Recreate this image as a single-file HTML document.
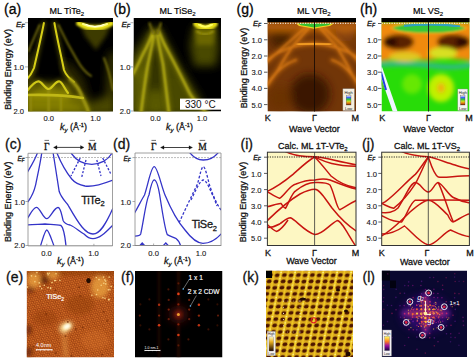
<!DOCTYPE html>
<html><head><meta charset="utf-8">
<style>
html,body{margin:0;padding:0;background:#fff;width:475px;height:361px;overflow:hidden}
svg{display:block}
text{font-family:"Liberation Sans",sans-serif}
.lab{font-size:14px;stroke:#111;stroke-width:0.3px}
.ttl{font-size:9px;stroke:#111;stroke-width:0.2px}
.tk{font-size:7.6px;stroke-width:0.1px}
.ax{font-size:9px}
</style></head><body>
<svg width="475" height="361" viewBox="0 0 475 361">
<defs>
 <filter id="b05" x="-20%" y="-20%" width="140%" height="140%"><feGaussianBlur stdDeviation="0.5"/></filter>
 <filter id="b07" x="-20%" y="-20%" width="140%" height="140%"><feGaussianBlur stdDeviation="0.7"/></filter>
 <filter id="b1" x="-20%" y="-20%" width="140%" height="140%"><feGaussianBlur stdDeviation="1"/></filter>
 <filter id="b2" x="-30%" y="-30%" width="160%" height="160%"><feGaussianBlur stdDeviation="2"/></filter>
 <filter id="b4" x="-50%" y="-50%" width="200%" height="200%"><feGaussianBlur stdDeviation="4"/></filter>
<linearGradient id="lg" x1="0" y1="0" x2="0" y2="1">
 <stop offset="0" stop-color="#fff"/><stop offset="0.2" stop-color="#4060ff"/><stop offset="0.4" stop-color="#20c040"/><stop offset="0.6" stop-color="#c0e020"/><stop offset="0.8" stop-color="#f08010"/><stop offset="1" stop-color="#602000"/></linearGradient>
<linearGradient id="lgk" x1="0" y1="0" x2="0" y2="1"><stop offset="0" stop-color="#fff8c0"/><stop offset="0.35" stop-color="#e8b020"/><stop offset="1" stop-color="#200800"/></linearGradient>
<linearGradient id="lgl" x1="0" y1="0" x2="0" y2="1"><stop offset="0" stop-color="#ffff60"/><stop offset="0.35" stop-color="#ff8020"/><stop offset="0.65" stop-color="#a010a0"/><stop offset="1" stop-color="#100040"/></linearGradient>
</defs>

<!-- ===== Row 1 ===== -->
<text class="lab" x="4" y="14">(a)</text>
<text class="ttl" x="49.5" y="14">ML TiTe<tspan font-size="6" dy="2">2</tspan></text>

<clipPath id="ca"><rect x="28" y="18" width="85" height="93.5"/></clipPath>
<g clip-path="url(#ca)">
<rect x="28" y="18" width="85" height="93.5" fill="#000"/>
<g filter="url(#b4)">
 <path d="M24,86 C40,82 60,82 80,90 L92,116 L24,116 Z" fill="#7a7600"/>
 <path d="M28,90 L75,90 L75,108 L28,108 Z" fill="#8a8400" opacity="0.6"/>
 <path d="M85,104 C95,100 105,98 116,90 L116,116 L85,116 Z" fill="#4a4600"/>
 <path d="M108,55 L116,50 L116,100 L106,95 Z" fill="#3a3800"/>
 <path d="M62,60 C70,62 78,70 84,80 L90,100 L70,100 Z" fill="#2a2800"/>
 <path d="M24,55 L34,50 L34,90 L24,95 Z" fill="#2a2800"/>
</g>
<g fill="none" stroke-linecap="round">
 <g stroke="#a8a010" stroke-width="4" opacity="0.45" filter="url(#b2)">
  <path d="M43.9,23 C41,38 37,55 34,68 C32,73 30,76 27,79"/>
  <path d="M54.4,23 C57,38 61,55 64,70 C67,78 76,86 82.8,98.4 C85,103 87,107 88.5,112"/>
  <path d="M27,91 C31,86 35,81.4 38.3,81.4 C42,81.4 45,89 48.7,89 C52,89 55,81.4 59.1,81.4 C62,81.4 64,88 68,93"/>
  <path d="M27,96.5 C45,95.5 65,96 82.8,99"/>
 </g>
 <g stroke="#9a9210" stroke-width="1.8" opacity="0.8" filter="url(#b1)">
  <path d="M39.5,25 L28.5,51"/>
  <path d="M58.5,25 C64,37 71,50 77,60 C81,67 86,73 91,76"/>
  <path d="M104,58 C108,68 111,80 113,90"/>
  <path d="M30.7,96 L30.7,112 M48.7,89 L48.7,112 M61,96 L61,112" stroke-width="2.6"/>
 </g>
 <g stroke="#d8d018" stroke-width="2" filter="url(#b07)">
  <path d="M43.9,23 C41,38 37,55 34,68 C32,73 30,76 27,79"/>
  <path d="M54.4,23 C57,38 61,55 64,70 C66,75 70,79 74,82"/>
 </g>
 <path d="M70,79 C76,84 80,90 82.8,98.4 C85,103 87,107 88.5,112" stroke="#a09810" stroke-width="3" filter="url(#b1)"/>
 <g stroke="#d0c818" stroke-width="2.2" filter="url(#b07)">
  <path d="M27,91 C31,86 35,81.4 38.3,81.4 C42,81.4 45,89 48.7,89 C52,89 55,81.4 59.1,81.4 C62,81.4 64,88 68,93"/>
  <path d="M27,95 C45,94.5 65,95 82.8,98" stroke="#c0b814" stroke-width="2.6"/>
 </g>
 <path d="M58,23 L65,23" stroke="#5a5600" stroke-width="2" filter="url(#b1)"/>
 <!-- M pocket -->
 <path d="M80,24 L111,24 L106,36 L96,50 L85,36 Z" fill="#3e3a00" filter="url(#b2)"/>
 <path d="M79,23.5 Q95,33 111,23.5" stroke="#e8e018" stroke-width="5.5" filter="url(#b1)"/>
 <path d="M83,24 Q95,30 107,24" stroke="#ffff80" stroke-width="2.2" filter="url(#b05)"/>
 <path d="M86,24.5 Q95,28.5 104,24.5" stroke="#fffff0" stroke-width="1" filter="url(#b05)"/>
</g>
</g>
<clipPath id="cb"><rect x="133.5" y="18" width="87.5" height="93.5"/></clipPath>
<g clip-path="url(#cb)">
<rect x="133.5" y="18" width="87.5" height="93.5" fill="#000"/>
<g filter="url(#b4)">
 <path d="M130,58 L150,28 L160,28 L180,66 L200,98 L205,116 L130,116 Z" fill="#464600"/>
 <path d="M130,75 L146,65 L150,116 L130,116 Z" fill="#606000"/>
 <path d="M140,80 L175,80 L195,116 L138,116 Z" fill="#4a4a00"/>
 <path d="M149,92 L163,92 L165,116 L147,116 Z" fill="#5a5a00"/>
 <path d="M163,75 L180,80 L190,112 L168,112 Z" fill="#484800"/>
 <path d="M150,45 L160,45 L160,90 L150,90 Z" fill="#000" opacity="0.4"/>
</g>
<g fill="none" stroke-linecap="round">
 <g stroke="#9a9210" stroke-width="6" opacity="0.45" filter="url(#b2)">
  <path d="M153,32 C150,40 147,47 144,52 C140,60 137,67 133,74"/>
  <path d="M153.8,36 C152,45 150,55 148,64 C145,80 143,97 141,113"/>
  <path d="M157.2,35 C159,45 161,55 163,64 C165,80 167,97 169,113"/>
  <path d="M158.6,31 C162,40 166,48 170,55 C176,66 183,80 190,94 C196,103 202,109 208,114"/>
 </g>
 <g stroke="#bab214" stroke-width="2.2" filter="url(#b1)">
  <path d="M153,32 C150,40 147,47 144,52 C140,60 137,67 133,74"/>
  <path d="M153.8,36 C152,45 150,55 148,64 C145,80 143,97 141,113"/>
  <path d="M157.2,35 C159,45 161,55 163,64 C165,80 167,97 169,113"/>
  <path d="M158.6,31 C162,40 166,48 170,55 C176,66 183,80 190,94 C196,103 202,109 208,114"/>
 </g>
 <path d="M150,24 L161,24" stroke="#4a4800" stroke-width="5" filter="url(#b2)"/>
 <path d="M153,33 L149.6,23.5 M158,33 L160.7,23.5" stroke="#6a6408" stroke-width="2.5" filter="url(#b1)"/>
 <!-- M pocket -->
 <path d="M194,26 L216,26 L219,45 L216,66 L194,66 L190,45 Z" fill="#4a4800" filter="url(#b4)"/>
 <path d="M194,27 L216,27 L213,45 L197,45 Z" fill="#6a6600" filter="url(#b2)"/>
 <path d="M197,31.5 Q205,37 213,31.5" stroke="#a09810" stroke-width="2" filter="url(#b1)"/>
 <path d="M196,24 Q205,32 215,24" stroke="#e8e018" stroke-width="5.5" filter="url(#b1)"/>
 <path d="M199,24.5 Q205,29 212,24.5" stroke="#ffff60" stroke-width="2.2" filter="url(#b05)"/>
</g>
<rect x="180" y="98.6" width="41" height="11.1" fill="#fff"/>
<text x="185" y="108.3" font-size="10" fill="#111">330 °C</text>
</g>

<text class="lab" x="113.5" y="14">(b)</text>
<text class="ttl" x="159.5" y="14">ML TiSe<tspan font-size="6" dy="2">2</tspan></text>

<text class="lab" x="236.5" y="14">(g)</text>
<text class="ttl" x="297" y="14">ML VTe<tspan font-size="6" dy="2">2</tspan></text>
<clipPath id="cg"><rect x="267.5" y="18" width="88.5" height="93.5"/></clipPath>
<g clip-path="url(#cg)">
<rect x="267.5" y="18" width="88.5" height="93.5" fill="#723608"/>
<g filter="url(#b4)">
 <ellipse cx="310" cy="94" rx="20" ry="20" fill="#3a1803"/>
 <ellipse cx="281" cy="38" rx="11" ry="11" fill="#4a2204"/>
 <ellipse cx="345" cy="36" rx="10" ry="6" fill="#8a4408"/>
 <ellipse cx="280" cy="98" rx="12" ry="12" fill="#6a3206"/>
 <rect x="262" y="23" width="100" height="7" fill="#d07010"/>
</g>
<g fill="none" stroke-linecap="round" stroke="#e88418">
 <g stroke-width="5" opacity="0.45" filter="url(#b2)">
  <path d="M310,26.4 C303,35 296,42 291.5,48 C286,56 282,62 278.8,68.5 C275,75 271,80 267,86"/>
  <path d="M305,27.7 C295,37 283,47 273.7,55.7 L267,62"/>
  <path d="M319,26.4 C326,35 333,42 337.5,48 C342,56 346,62 349.2,68.5 C352,75 355,80 359,86"/>
  <path d="M324,27.7 C334,37 345,47 353,55.7 L359,62"/>
  <path d="M267,60 C280,50 297,44 314,43.5 C331,44 346,50 359,58"/>
  <path d="M267,84 C276,72 284,64 296,60 M359,84 C350,72 344,64 332,60"/>
 </g>
 <g stroke-width="1.8" opacity="0.7" filter="url(#b1)">
  <path d="M310,26.4 C303,35 296,42 291.5,48 C286,56 282,62 278.8,68.5 C275,75 271,80 267,86"/>
  <path d="M305,27.7 C295,37 283,47 273.7,55.7 L267,62"/>
  <path d="M319,26.4 C326,35 333,42 337.5,48 C342,56 346,62 349.2,68.5 C352,75 355,80 359,86"/>
  <path d="M324,27.7 C334,37 345,47 353,55.7 L359,62"/>
  <path d="M267,60 C280,50 297,44 314,43.5 C331,44 346,50 359,58"/>
  <path d="M267,84 C276,72 284,64 296,60 M359,84 C350,72 344,64 332,60"/>
 </g>
 <path d="M298,44.5 C305,43.8 322,43.8 330,44.5" stroke="#ffa828" stroke-width="3" filter="url(#b1)"/>
</g>
<path d="M262,26 H362" stroke="#f08c18" stroke-width="5" filter="url(#b1)"/>
<path d="M296,23.5 L334,23.5 L330,26 Q322,27 314,28.8 Q306,27 299,26 Z" fill="#f0d020" filter="url(#b05)"/>
<path d="M298,23.5 L332,23.5 L328,25.3 Q321,26 314,27.5 Q307,26 301,25.3 Z" fill="#30c030" filter="url(#b05)"/>
<path d="M306,24.3 L323,24.3" stroke="#a0d8e0" stroke-width="1" fill="none" filter="url(#b05)"/>
<rect x="262" y="17" width="100" height="5.2" fill="#000"/>
<line x1="267.5" y1="23.3" x2="356" y2="23.3" stroke="#fff" stroke-width="1" stroke-dasharray="1.2,1.3"/>
<line x1="314.5" y1="22" x2="314.5" y2="112" stroke="#1a0c04" stroke-width="0.9"/>
<rect x="342.9" y="88.8" width="11.5" height="21.8" fill="#f4eee0" stroke="#888" stroke-width="0.4"/>
<text x="348.6" y="93.5" font-size="4" text-anchor="middle" fill="#222">High</text>
<text x="348.6" y="109.5" font-size="4" text-anchor="middle" fill="#222">Low</text>
<rect x="346.2" y="95.5" width="4.8" height="9.5" fill="url(#lg)" stroke="#444" stroke-width="0.3"/>
</g>

<text class="lab" x="360" y="14">(h)</text>
<text class="ttl" x="413" y="14">ML VS<tspan font-size="6" dy="2">2</tspan></text>
<clipPath id="ch"><rect x="381.5" y="18" width="88" height="93.5"/></clipPath>
<g clip-path="url(#ch)">
<rect x="381.5" y="18" width="88" height="93.5" fill="#28dc08"/>
<g filter="url(#b2)">
 <path d="M376,22 H476 V62 C460,58 445,58 428,60 C410,60 395,58 376,62 Z" fill="#f08a10"/>
 <ellipse cx="399" cy="42" rx="15" ry="8" fill="#5a2200"/>
 <ellipse cx="453" cy="42" rx="16" ry="8" fill="#5a2200"/>
 <ellipse cx="390" cy="42" rx="7" ry="6" fill="#301000"/>
 <ellipse cx="463" cy="42" rx="7" ry="6" fill="#301000"/>
 <ellipse cx="443" cy="53" rx="14" ry="6" fill="#d8e020"/>
 <ellipse cx="405" cy="57" rx="16" ry="5" fill="#e0c820"/>
 <path d="M376,65 C400,63 420,64 435,66 C450,68 460,67 476,64" stroke="#30b0a0" stroke-width="4" fill="none"/>
 <ellipse cx="441" cy="88" rx="13" ry="14" fill="#c0f000"/>
 <ellipse cx="441" cy="88" rx="4" ry="5" fill="#f0b010"/>
 <ellipse cx="412" cy="84" rx="10" ry="10" fill="#90f000" opacity="0.6"/>
</g>
<path d="M391,28 C400,20.5 455,20.5 467,28 C458,35 400,35.5 391,28 Z" fill="#38c838" stroke="#f8a818" stroke-width="1.5" filter="url(#b1)"/>
<path d="M404,25.8 C420,24 445,24 460,26.5" stroke="#30a0c0" stroke-width="2.2" fill="none" filter="url(#b05)"/>
<path d="M419,25 L429,25" stroke="#f0f8ff" stroke-width="2" filter="url(#b05)"/>
<path d="M380,68 L396,114" stroke="#f0f4ff" stroke-width="4.5" filter="url(#b05)"/>
<path d="M381,72 L386,90" stroke="#2040e0" stroke-width="2" filter="url(#b05)"/>
<path d="M378,70 L383,88" stroke="#60c030" stroke-width="2" filter="url(#b05)"/>
<rect x="376" y="17" width="100" height="5.2" fill="#000"/>
<line x1="381.5" y1="23.3" x2="469.5" y2="23.3" stroke="#fff" stroke-width="1" stroke-dasharray="1.2,1.3"/>
<line x1="428.5" y1="22" x2="428.5" y2="112" stroke="#1a1a1a" stroke-width="0.9"/>
<rect x="457.8" y="89" width="9.9" height="21.5" fill="#f4f4f0" stroke="#888" stroke-width="0.4"/>
<text x="462.75" y="93.5" font-size="4" text-anchor="middle" fill="#222">High</text>
<text x="462.75" y="109.5" font-size="4" text-anchor="middle" fill="#222">Low</text>
<rect x="460.5" y="95.5" width="4.5" height="9.5" fill="url(#lg)" stroke="#444" stroke-width="0.3"/>
</g>

<!-- row1 axes text -->
<g fill="#111" stroke="#111" stroke-width="0.28">
<text transform="translate(10.8,69.4) rotate(-90)" class="ax" text-anchor="middle">Binding Energy (eV)</text>
<text x="16" y="26.7" font-size="8" font-style="italic">E<tspan font-size="5.5" dy="1.5">F</tspan></text>
<text class="tk" x="24" y="69.8" text-anchor="end">1.0</text>
<text class="tk" x="24" y="114" text-anchor="end">2.0</text>
<text class="tk" x="48.7" y="120.6" text-anchor="middle">0.0</text>
<text class="tk" x="95.5" y="120.6" text-anchor="middle">1.0</text>
<text class="ax" x="60" y="130"><tspan font-style="italic">k</tspan><tspan font-size="6" dy="1.5" font-style="italic">y</tspan><tspan dy="-1.5"> (Å</tspan><tspan font-size="5.5" dy="-3">-1</tspan><tspan dy="3">)</tspan></text>

<text x="121.4" y="26.7" font-size="8" font-style="italic">E<tspan font-size="5.5" dy="1.5">F</tspan></text>
<text class="tk" x="130.4" y="69.8" text-anchor="end">1.0</text>
<text class="tk" x="130.4" y="114" text-anchor="end">2.0</text>
<text class="tk" x="155.5" y="120.6" text-anchor="middle">0.0</text>
<text class="tk" x="202" y="120.6" text-anchor="middle">1.0</text>
<text class="ax" x="166" y="130"><tspan font-style="italic">k</tspan><tspan font-size="6" dy="1.5" font-style="italic">y</tspan><tspan dy="-1.5"> (Å</tspan><tspan font-size="5.5" dy="-3">-1</tspan><tspan dy="3">)</tspan></text>
</g>
<g stroke="#888" stroke-width="0.7">
<path d="M25,22.7 H28 M25,66.9 H28 M130.5,22.7 H133.5 M130.5,66.9 H133.5 M131,111 H133.5"/>
</g>


<g fill="#111" stroke="#111" stroke-width="0.28">
<text transform="translate(246.6,68) rotate(-90)" class="ax" text-anchor="middle">Binding Energy (eV)</text>
<text x="253" y="25.8" font-size="7.5" font-style="italic">E<tspan font-size="5" dy="1.3">F</tspan></text>
<text class="tk" x="262" y="42.8" text-anchor="end">1.0</text>
<text class="tk" x="262" y="59" text-anchor="end">2.0</text>
<text class="tk" x="262" y="75.2" text-anchor="end">3.0</text>
<text class="tk" x="262" y="91.4" text-anchor="end">4.0</text>
<text class="tk" x="262" y="107.6" text-anchor="end">5.0</text>
<text class="ax" x="267.8" y="121.4" text-anchor="middle">K</text>
<text class="ax" x="314.5" y="121.4" text-anchor="middle">Γ</text>
<text class="ax" x="355.3" y="121.4" text-anchor="middle">M</text>
<text class="ax" x="314.4" y="131.5" text-anchor="middle">Wave Vector</text>

<text x="367" y="25.8" font-size="7.5" font-style="italic">E<tspan font-size="5" dy="1.3">F</tspan></text>
<text class="tk" x="377.5" y="42.8" text-anchor="end">1.0</text>
<text class="tk" x="377.5" y="59" text-anchor="end">2.0</text>
<text class="tk" x="377.5" y="75.2" text-anchor="end">3.0</text>
<text class="tk" x="377.5" y="91.4" text-anchor="end">4.0</text>
<text class="tk" x="377.5" y="107.6" text-anchor="end">5.0</text>
<text class="ax" x="382.3" y="121.4" text-anchor="middle">K</text>
<text class="ax" x="428.5" y="121.4" text-anchor="middle">Γ</text>
<text class="ax" x="469" y="121.4" text-anchor="middle">M</text>
<text class="ax" x="428.5" y="131.5" text-anchor="middle">Wave Vector</text>
</g>
<g stroke="#333" stroke-width="0.8">
<path d="M264,23.5 H267.5 M264,39.8 H267.5 M264,56 H267.5 M264,72.2 H267.5 M264,88.4 H267.5 M264,104.6 H267.5"/>
<path d="M378,23.5 H381.5 M378,39.8 H381.5 M378,56 H381.5 M378,72.2 H381.5 M378,88.4 H381.5 M378,104.6 H381.5"/>
</g>

<!-- ===== Row 2 ===== -->

<clipPath id="cc"><rect x="28" y="153.3" width="84.5" height="92.5"/></clipPath>
<rect x="28" y="153.3" width="84.5" height="92.5" fill="#fff"/>
<line x1="28" y1="157.5" x2="112.5" y2="157.5" stroke="#aaa" stroke-width="0.8" stroke-dasharray="2,1"/>
<g clip-path="url(#cc)" fill="none" stroke="#3434c8" stroke-width="1.3">
 <path d="M37.8,152 C35,160 31,166 27,173"/>
 <path d="M41.9,152 C40,165 37,178 35.7,184.6 C34,192 31,198 27,203"/>
 <path d="M53,152 C55,165 57.5,180 59.2,191.5 C61,197 64,200 68,205 C72,212 77,221 82,227 C87,233 90,234 93,234 C100,234 106,224 113,208"/>
 <path d="M56.5,152 C61,163 66,172 71.7,179 C75,183 80,185 85,186 C91,187 100,185 113,180"/>
 <path d="M71,153 C76,160 84,164.3 91.8,164.3 C100,164.3 108,160 111.8,153.5"/>
 <path d="M27,219 C30,215 33,207.3 36.4,207.3 C40,207.3 43,218.7 46.8,218.7 C50,218.7 54,207.5 58,207.5 C61,207.5 62,217 63.2,220.7 C65,224 67,224.5 70,225 C75,227 80,232 84,234 C88,238 91,238.7 93,238.7 C100,238.7 106,232 113,225"/>
 <path d="M27,225 C32,224 40,224.5 45,224 C50,224.5 56,224.5 61,225.5 C64,228 65,236 66.1,247"/>
 <path d="M40.2,247 C43,238 45,230 46.8,230 C48.6,230 51,238 54.4,247"/>
 <g stroke-dasharray="2.2,1.6">
  <path d="M80.2,158 L71,176"/><path d="M86,160 L81.8,176.8"/><path d="M96.8,160 L101,176"/><path d="M102.7,158 L111,174.3"/>
 </g>
</g>
<path d="M28,246 V153.3 H112.5 V246" fill="none" stroke="#888" stroke-width="0.8"/>
<line x1="28" y1="245.8" x2="112.5" y2="245.8" stroke="#888" stroke-width="1"/>
<g fill="#111" stroke="#111" stroke-width="0.28">
 <text x="46.8" y="149.9" font-family="Liberation Serif" font-size="9.5" text-anchor="middle" style="font-family:'Liberation Serif',serif">Γ</text>
 <text x="92.3" y="149.9" font-size="9.5" text-anchor="middle" style="font-family:'Liberation Serif',serif">M</text>
 <path d="M44.5,140.4 H49 M89.5,140.4 H95" stroke="#111" stroke-width="0.6"/>
 <path d="M55,147.4 H82.5" stroke="#111" stroke-width="0.8"/>
 <path d="M53.5,147.4 L57,145.6 L57,149.2 Z M84,147.4 L80.5,145.6 L80.5,149.2 Z"/>
 <text x="81.2" y="203.6" font-size="11" fill="#222" letter-spacing="-0.3">TiTe<tspan font-size="7.5" dy="2.5">2</tspan></text>
</g>


<clipPath id="cd"><rect x="135" y="153" width="86" height="92.5"/></clipPath>
<rect x="135" y="153" width="86" height="92.5" fill="#fff"/>
<line x1="135" y1="157.6" x2="221" y2="157.6" stroke="#aaa" stroke-width="0.8" stroke-dasharray="2,1"/>
<g clip-path="url(#cd)" fill="none" stroke="#3434c8" stroke-width="1.3">
 <path d="M134,214 C138,207 142,199 144.5,195 C148,185 151,166.7 154.2,166.7 C157.4,166.7 161,185 165,195 C170,207 178,222 185,230 C191,238 197,243.3 203,243.3 C210,243.3 216,240 222,233"/>
 <path d="M134,236.2 C137,236 140,235.5 140.7,233.9 C143,225 146,200 149,195 C151,185 152.5,179.9 154.2,179.9 C156,179.9 158,185 159.7,195 C162,210 165,230 167.3,234.6 C170,236.5 174,237 176,238.5 C178,240 180,243 181,247"/>
 <path d="M189.2,152 C193,157 198,160 203.3,160 C209,160 215,157 218.7,152"/>
 <path d="M139.5,246 L142.2,243 L145,246 M163,246 L165.8,243 L168.6,246"/>
 <g stroke-dasharray="2.6,1.8">
  <path d="M179.2,222.5 C185,210 192,195 197.5,184 C200,175 201.5,166.7 203.3,166.7 C205,166.7 207,175 209.2,184 C212,193 216,203 221,210"/>
  <path d="M191,200 C195,192 200,180 203.3,180 C206.6,180 210,190 214,198 L217,206"/>
 </g>
</g>
<path d="M135,246 V153 H221 V246" fill="none" stroke="#888" stroke-width="0.8"/>
<line x1="135" y1="245.5" x2="221" y2="245.5" stroke="#888" stroke-width="1"/>
<g fill="#111" stroke="#111" stroke-width="0.28">
 <text x="153.8" y="149.9" font-size="9.5" text-anchor="middle" style="font-family:'Liberation Serif',serif">Γ</text>
 <text x="202.5" y="149.9" font-size="9.5" text-anchor="middle" style="font-family:'Liberation Serif',serif">M</text>
 <path d="M151.5,140.4 H156 M199.7,140.4 H205.2" stroke="#111" stroke-width="0.6"/>
 <path d="M162,147.5 H191" stroke="#111" stroke-width="0.8"/>
 <path d="M160.5,147.5 L164,145.7 L164,149.3 Z M192.5,147.5 L189,145.7 L189,149.3 Z"/>
 <text x="191.7" y="228.3" font-size="11" fill="#222" letter-spacing="-0.3">TiSe<tspan font-size="7.5" dy="2.5">2</tspan></text>
 <text class="lab" x="113" y="149">(d)</text>
 <text x="123.5" y="160.5" font-size="6.5" font-style="italic">E<tspan font-size="4.5" dy="1.2">F</tspan></text>
 <text class="tk" x="131" y="204.5" text-anchor="end">1.0</text>
 <text class="tk" x="131" y="248" text-anchor="end">2.0</text>
 <text class="tk" x="153.6" y="255.7" text-anchor="middle">0.0</text>
 <text class="tk" x="201" y="255.7" text-anchor="middle">1.0</text>
 <text class="ax" x="164" y="264.3"><tspan font-style="italic">k</tspan><tspan font-size="6" dy="1.5" font-style="italic">y</tspan><tspan dy="-1.5"> (Å</tspan><tspan font-size="5.5" dy="-3">-1</tspan><tspan dy="3">)</tspan></text>
</g>
<path d="M153.6,245.5 V243.5 M201,245.5 V243.5 M132.5,157.6 H135 M132.5,201.5 H135 M132.5,245.5 H135" stroke="#888" stroke-width="0.7"/>


<clipPath id="ci"><rect x="267.4" y="152.2" width="88.6" height="93.3"/></clipPath>
<rect x="267.4" y="152.2" width="88.6" height="93.3" fill="#fdf7c3"/>
<g clip-path="url(#ci)" fill="none" stroke="#c81410" stroke-width="1.5">
 <path d="M283,150 C290,155 300,156.8 314.5,156.8 C325,157 335,161 357,164.9"/>
 <path d="M314.5,157 C322,160 330,166 357,166.3"/>
 <path d="M314.5,157 C320,162 326,170 331,176 C337,181 345,186 357,188"/>
 <path d="M314.5,157 C306,162 298,170 293,174.4 C285,181 275,188 266,192"/>
 <path d="M266,191 C270,193 275,197 279.6,198.3 C284,196 290,185 296,184 C303,181 309,180 314.8,179.9 C320,179 324,178 330,180 C340,184 350,188 357,189.3"/>
 <path d="M266,207 C272,206 278,203 281,203.5 C283,206 284,208 285.5,208.3 C288,205 292,192 296,190.7 C302,186 309,182.6 314.8,182.6 C320,182.6 326,182 330,185 C334,192 337,209.7 339.9,209.7 C344,208 350,203 357,200.2"/>
 <path d="M266,221.9 C275,213 290,200 300,194 C306,191 310,189.3 314.8,189.3 C320,189.3 326,200 332,208 C340,218 348,226 357,231.4"/>
 <path d="M266,227.3 C272,228 276,226 279.6,224 C284,221 287,217.8 290.4,217.8 C295,219 305,232 314.8,234.5 C322,235 330,224 337.1,220.6 C342,221 348,235 357,248"/>
 <path d="M266,223.3 C270,227 274,231 276.9,231.4 C280,230 284,226 288,220"/>
</g>
<line x1="267.4" y1="157" x2="356" y2="157" stroke="#111" stroke-width="0.9" stroke-dasharray="1.2,1.2"/>
<line x1="314.6" y1="152.2" x2="314.6" y2="245.5" stroke="#333" stroke-width="0.8"/>
<rect x="267.4" y="152.2" width="88.6" height="93.3" fill="none" stroke="#333" stroke-width="1"/>

<clipPath id="cj"><rect x="381.7" y="152.2" width="87.7" height="93.3"/></clipPath>
<rect x="381.7" y="152.2" width="87.7" height="93.3" fill="#fdf7c3"/>
<g clip-path="url(#cj)" fill="none" stroke="#c81410" stroke-width="1.5">
 <path d="M399,150 C405,154 415,156 428.3,156.8 C435,158 445,162 455,165 C460,167 465,168 470,169"/>
 <path d="M428.3,157 C422,165 418,172 415.3,174.4 C405,183 395,195 385.4,201.6 C383,203 381,204 380,204"/>
 <path d="M428.3,157 C424,165 420,175 415.3,183.9 C410,192 402,202 393.6,208.3 C388,207 384,204 380,203"/>
 <path d="M380,212.4 C388,213 393,213 398,208 C405,198 410,183 415.3,182.6 C420,182.6 424,192 428.3,192 C432,192 435,182.6 438.3,182.6 C443,184 448,195 453.3,197.5 C458,200 464,202 470,203"/>
 <path d="M428.3,157 C431,165 434,175 438.3,177.1 C445,178 455,176 470,175.8"/>
 <path d="M380,215 C386,217 390,222 401.7,221.9 C407,215 410,203 415.3,200.2 C420,200.2 440,200 470,200.2"/>
 <path d="M380,236.8 C390,232 400,222 410,212 C418,205 424,200.2 428.3,200.2 C435,200.2 442,210 447.8,215 C450,220 452,221.9 453.3,221.9 C458,220 464,215 470,213.8"/>
 <path d="M380,234 C388,234.5 396,232 404.4,226 C410,230 420,243 428.3,245 C436,245 444,232 450.6,230 C455,232 462,236 470,236.8"/>
 <path d="M438.3,182.6 C443,192 448,210 453.3,221.9"/>
</g>
<line x1="381.7" y1="157" x2="469.4" y2="157" stroke="#111" stroke-width="0.9" stroke-dasharray="1.2,1.2"/>
<line x1="428.3" y1="152.2" x2="428.3" y2="245.5" stroke="#333" stroke-width="0.8"/>
<rect x="381.7" y="152.2" width="87.7" height="93.3" fill="none" stroke="#333" stroke-width="1"/>



<g fill="#111" stroke="#111" stroke-width="0.28">
<text class="lab" x="5" y="149">(c)</text>
<text transform="translate(10.5,201.7) rotate(-90)" class="ax" text-anchor="middle">Binding Energy (eV)</text>
<text x="17.5" y="160.5" font-size="6.5" font-style="italic">E<tspan font-size="4.5" dy="1.2">F</tspan></text>
<text class="tk" x="24.9" y="204.5" text-anchor="end">1.0</text>
<text class="tk" x="24.9" y="248" text-anchor="end">2.0</text>
<text class="tk" x="46.5" y="255.7" text-anchor="middle">0.0</text>
<text class="tk" x="93.5" y="255.7" text-anchor="middle">1.0</text>
<text class="ax" x="57" y="264.3"><tspan font-style="italic">k</tspan><tspan font-size="6" dy="1.5" font-style="italic">y</tspan><tspan dy="-1.5"> (Å</tspan><tspan font-size="5.5" dy="-3">-1</tspan><tspan dy="3">)</tspan></text>
</g>
<path d="M46.8,245.8 V243.8 M93.9,245.8 V243.8 M25.5,157.5 H28 M25.5,201.5 H28 M25.5,245.5 H28" stroke="#888" stroke-width="0.7"/>


<g fill="#111" stroke="#111" stroke-width="0.28">
<text class="lab" x="240.5" y="149">(i)</text>
<text class="ax" x="278" y="149.2">Calc. ML 1T-VTe<tspan font-size="6" dy="2">2</tspan></text>
<text transform="translate(246,202) rotate(-90)" class="ax" text-anchor="middle">Binding Energy (eV)</text>
<text x="253.2" y="159.5" font-size="7" font-style="italic">E<tspan font-size="4.8" dy="1.2">F</tspan></text>
<text class="tk" x="261.5" y="176.5" text-anchor="end">1.0</text>
<text class="tk" x="261.5" y="192.7" text-anchor="end">2.0</text>
<text class="tk" x="261.5" y="208.9" text-anchor="end">3.0</text>
<text class="tk" x="261.5" y="225.1" text-anchor="end">4.0</text>
<text class="tk" x="261.5" y="241.3" text-anchor="end">5.0</text>
<text class="ax" x="268" y="255.8" text-anchor="middle">K</text>
<text class="ax" x="314.6" y="255.8" text-anchor="middle">Γ</text>
<text class="ax" x="355.5" y="255.8" text-anchor="middle">M</text>
<text class="ax" x="311.5" y="264.2" text-anchor="middle">Wave Vector</text>

<text class="lab" x="362" y="149">(j)</text>
<text class="ax" x="394.1" y="149.2">Calc. ML 1T-VS<tspan font-size="6" dy="2">2</tspan></text>
<text x="367.6" y="159.5" font-size="7" font-style="italic">E<tspan font-size="4.8" dy="1.2">F</tspan></text>
<text class="tk" x="377" y="176.5" text-anchor="end">1.0</text>
<text class="tk" x="377" y="192.7" text-anchor="end">2.0</text>
<text class="tk" x="377" y="208.9" text-anchor="end">3.0</text>
<text class="tk" x="377" y="225.1" text-anchor="end">4.0</text>
<text class="tk" x="377" y="241.3" text-anchor="end">5.0</text>
<text class="ax" x="381.8" y="255.8" text-anchor="middle">K</text>
<text class="ax" x="427" y="255.8" text-anchor="middle">Γ</text>
<text class="ax" x="470" y="255.8" text-anchor="middle">M</text>
<text class="ax" x="424.8" y="264.5" text-anchor="middle">Wave vector</text>
</g>
<g stroke="#333" stroke-width="0.8">
<path d="M264,157.2 H267.4 M264,173.4 H267.4 M264,189.6 H267.4 M264,205.8 H267.4 M264,222 H267.4 M264,238.2 H267.4"/>
<path d="M378.3,157.2 H381.7 M378.3,173.4 H381.7 M378.3,189.6 H381.7 M378.3,205.8 H381.7 M378.3,222 H381.7 M378.3,238.2 H381.7"/>
</g>

<!-- ===== Row 3 ===== -->

<pattern id="pe" x="0" y="0" width="2.4" height="4.16" patternUnits="userSpaceOnUse" patternTransform="rotate(-12)">
 <rect width="2.4" height="4.16" fill="#9a4010"/>
 <circle cx="1.2" cy="1.04" r="0.85" fill="#d87028"/>
 <circle cx="0" cy="3.12" r="0.85" fill="#d87028"/>
 <circle cx="2.4" cy="3.12" r="0.85" fill="#d87028"/>
</pattern>
<clipPath id="ce"><rect x="26.6" y="271" width="87.4" height="86.5"/></clipPath>
<g clip-path="url(#ce)">
<rect x="26.6" y="271" width="87.4" height="86.5" fill="url(#pe)"/>
<g filter="url(#b2)">
 <rect x="26" y="270" width="90" height="5" fill="#803808" opacity="0.6"/>
 <ellipse cx="80" cy="305" rx="14" ry="10" fill="#803008" opacity="0.35"/>
 <ellipse cx="45" cy="318" rx="12" ry="8" fill="#803008" opacity="0.3"/>
 <ellipse cx="95" cy="340" rx="14" ry="10" fill="#e88030" opacity="0.25"/>
 <ellipse cx="34" cy="280" rx="7" ry="8" fill="#e8a040" opacity="0.8"/>
 <ellipse cx="53" cy="275" rx="6" ry="4" fill="#e8a040" opacity="0.8"/>
 <ellipse cx="100" cy="287" rx="9" ry="11" fill="#e8a040" opacity="0.8"/>
 <ellipse cx="44" cy="280" rx="3.5" ry="3.5" fill="#5a2008"/>
 <ellipse cx="31" cy="290" rx="2.5" ry="3.5" fill="#6a2808"/>
 <ellipse cx="29" cy="330" rx="2.5" ry="5" fill="#6a2808"/>
 <ellipse cx="29" cy="352" rx="3" ry="5" fill="#6a2808"/>
 <ellipse cx="66" cy="327" rx="7" ry="4.5" fill="#ffe8a0" transform="rotate(-30 66 327)"/>
 <path d="M64,332 L66,358" stroke="#e8a050" stroke-width="4" opacity="0.6"/>
 <ellipse cx="45" cy="280" rx="5" ry="4" fill="#6a2808" opacity="0.7"/>
</g>
<ellipse cx="88.5" cy="280.6" rx="2.2" ry="2.6" fill="#200800" filter="url(#b05)"/>
<ellipse cx="67" cy="326.5" rx="3.5" ry="2.2" fill="#fffff0" filter="url(#b1)" transform="rotate(-30 67 326.5)"/>
<circle cx="34.9" cy="281.8" r="0.8" fill="#f8d080"/><circle cx="39.2" cy="282.9" r="0.8" fill="#f8d080"/><circle cx="47.6" cy="273.2" r="0.8" fill="#f8d080"/><circle cx="27.4" cy="287.1" r="0.8" fill="#f8d080"/><circle cx="35.6" cy="276.2" r="0.8" fill="#f8d080"/><circle cx="59.9" cy="280.5" r="0.8" fill="#f8d080"/><circle cx="54.6" cy="280.6" r="0.8" fill="#f8d080"/><circle cx="48.1" cy="274.7" r="0.8" fill="#f8d080"/><circle cx="48.0" cy="287.6" r="0.8" fill="#f8d080"/><circle cx="44.3" cy="285.3" r="0.8" fill="#f8d080"/><circle cx="49.2" cy="273.2" r="0.8" fill="#f8d080"/><circle cx="52.0" cy="282.6" r="0.8" fill="#f8d080"/><circle cx="36.9" cy="272.6" r="0.8" fill="#f8d080"/><circle cx="55.6" cy="280.5" r="0.8" fill="#f8d080"/><circle cx="50.7" cy="287.8" r="0.8" fill="#f8d080"/><circle cx="50.6" cy="288.6" r="0.8" fill="#f8d080"/><circle cx="40.0" cy="286.4" r="0.8" fill="#f8d080"/><circle cx="41.7" cy="288.8" r="0.8" fill="#f8d080"/><circle cx="56.0" cy="273.8" r="0.8" fill="#f8d080"/><circle cx="31.5" cy="275.9" r="0.8" fill="#f8d080"/><circle cx="111.2" cy="286.5" r="0.8" fill="#f8d080"/><circle cx="103.8" cy="283.2" r="0.8" fill="#f8d080"/><circle cx="101.2" cy="285.3" r="0.8" fill="#f8d080"/><circle cx="97.7" cy="290.0" r="0.8" fill="#f8d080"/><circle cx="102.9" cy="297.7" r="0.8" fill="#f8d080"/><circle cx="105.0" cy="298.3" r="0.8" fill="#f8d080"/><circle cx="108.8" cy="299.8" r="0.8" fill="#f8d080"/><circle cx="104.8" cy="279.9" r="0.8" fill="#f8d080"/><circle cx="108.9" cy="299.2" r="0.8" fill="#f8d080"/><circle cx="109.9" cy="289.7" r="0.8" fill="#f8d080"/><circle cx="105.7" cy="281.1" r="0.8" fill="#f8d080"/><circle cx="108.3" cy="289.8" r="0.8" fill="#f8d080"/><circle cx="96.3" cy="277.5" r="0.8" fill="#f8d080"/><circle cx="108.8" cy="299.8" r="0.8" fill="#f8d080"/><circle cx="91.9" cy="295.2" r="0.8" fill="#f8d080"/><circle cx="99.0" cy="279.6" r="0.8" fill="#f8d080"/><circle cx="96.5" cy="294.5" r="0.8" fill="#f8d080"/><circle cx="109.2" cy="277.1" r="0.8" fill="#f8d080"/><circle cx="103.5" cy="277.1" r="0.8" fill="#f8d080"/><circle cx="105.8" cy="283.9" r="0.8" fill="#f8d080"/><circle cx="102.2" cy="354.6" r="0.9" fill="#7a3008" opacity="0.8"/><circle cx="71.4" cy="355.9" r="0.9" fill="#7a3008" opacity="0.8"/><circle cx="55.4" cy="290.5" r="0.9" fill="#7a3008" opacity="0.8"/><circle cx="79.2" cy="287.2" r="0.9" fill="#7a3008" opacity="0.8"/><circle cx="46.2" cy="314.0" r="0.9" fill="#7a3008" opacity="0.8"/><circle cx="80.1" cy="296.1" r="0.9" fill="#7a3008" opacity="0.8"/><circle cx="33.5" cy="346.6" r="0.9" fill="#7a3008" opacity="0.8"/><circle cx="55.7" cy="353.1" r="0.9" fill="#7a3008" opacity="0.8"/><circle cx="103.5" cy="311.8" r="0.9" fill="#7a3008" opacity="0.8"/><circle cx="67.8" cy="321.9" r="0.9" fill="#7a3008" opacity="0.8"/><circle cx="82.8" cy="327.3" r="0.9" fill="#7a3008" opacity="0.8"/><circle cx="75.9" cy="329.0" r="0.9" fill="#7a3008" opacity="0.8"/><circle cx="107.1" cy="321.0" r="0.9" fill="#7a3008" opacity="0.8"/><circle cx="65.4" cy="336.1" r="0.9" fill="#7a3008" opacity="0.8"/>
<text x="46.2" y="299.2" font-size="7.5" fill="#fff" stroke="#fff" stroke-width="0.2">TiSe<tspan font-size="5" dy="1.5">2</tspan></text>
<text x="36" y="347.2" font-size="5.5" fill="#fff">4.0nm</text>
<path d="M36,349.8 H52.3" stroke="#fff" stroke-width="1.1"/>
<path d="M36.3,349 V351 M40.4,349.5 V351 M44.2,349.5 V351 M48.2,349.5 V351 M52,349 V351" stroke="#fff" stroke-width="0.5"/>
</g>


<clipPath id="cf"><rect x="135" y="271" width="87.5" height="86.5"/></clipPath>
<g clip-path="url(#cf)">
<rect x="135" y="271" width="87.5" height="86.5" fill="#000"/>
<g opacity="0.5" filter="url(#b1)">
 <rect x="157.5" y="271" width="3" height="87" fill="#300804"/>
 <rect x="176.8" y="271" width="3.4" height="87" fill="#3a0a04"/>
</g>
<ellipse cx="178.4" cy="314.4" rx="10" ry="9" fill="#501008" opacity="0.7" filter="url(#b4)"/>
<g filter="url(#b05)">
<circle cx="178.4" cy="293.9" r="1.30" fill="#e84018" opacity="1.00"/><circle cx="168.7" cy="299.9" r="1.12" fill="#e84018" opacity="0.40"/><circle cx="189.2" cy="299.9" r="1.15" fill="#e84018" opacity="0.50"/><circle cx="159.1" cy="304.7" r="1.21" fill="#e84018" opacity="0.70"/><circle cx="198.9" cy="304.7" r="1.27" fill="#e84018" opacity="0.90"/><circle cx="159.1" cy="315.6" r="1.15" fill="#e84018" opacity="0.50"/><circle cx="198.9" cy="315.6" r="1.18" fill="#e84018" opacity="0.60"/><circle cx="168.7" cy="319.2" r="1.12" fill="#e84018" opacity="0.40"/><circle cx="189.2" cy="319.2" r="1.12" fill="#e84018" opacity="0.40"/><circle cx="159.1" cy="325.2" r="1.27" fill="#e84018" opacity="0.90"/><circle cx="198.9" cy="325.2" r="1.24" fill="#e84018" opacity="0.80"/><circle cx="178.4" cy="334.9" r="1.27" fill="#e84018" opacity="0.90"/><circle cx="168.7" cy="309.6" r="1.15" fill="#e84018" opacity="0.50"/><circle cx="189.2" cy="309.6" r="1.15" fill="#e84018" opacity="0.50"/><circle cx="139.8" cy="315.6" r="1.12" fill="#e84018" opacity="0.40"/><circle cx="218.0" cy="315.6" r="1.12" fill="#e84018" opacity="0.40"/><circle cx="178.4" cy="304.4" r="1.15" fill="#e84018" opacity="0.50"/><circle cx="178.4" cy="324.4" r="1.15" fill="#e84018" opacity="0.50"/><circle cx="149.4" cy="299.4" r="1.07" fill="#e84018" opacity="0.25"/><circle cx="208.4" cy="299.4" r="1.07" fill="#e84018" opacity="0.25"/><circle cx="149.4" cy="329.4" r="1.07" fill="#e84018" opacity="0.25"/><circle cx="208.4" cy="329.4" r="1.07" fill="#e84018" opacity="0.25"/><circle cx="168.4" cy="339.4" r="1.09" fill="#e84018" opacity="0.30"/><circle cx="188.4" cy="339.4" r="1.09" fill="#e84018" opacity="0.30"/><circle cx="168.4" cy="289.4" r="1.09" fill="#e84018" opacity="0.30"/><circle cx="188.4" cy="289.4" r="1.09" fill="#e84018" opacity="0.30"/><circle cx="140.4" cy="304.4" r="1.06" fill="#e84018" opacity="0.20"/><circle cx="217.4" cy="304.4" r="1.06" fill="#e84018" opacity="0.20"/><circle cx="140.4" cy="325.4" r="1.06" fill="#e84018" opacity="0.20"/><circle cx="217.4" cy="325.4" r="1.06" fill="#e84018" opacity="0.20"/><circle cx="178.4" cy="345.4" r="1.09" fill="#e84018" opacity="0.30"/><circle cx="178.4" cy="283.4" r="1.09" fill="#e84018" opacity="0.30"/>
</g>
<circle cx="178.4" cy="314.4" r="3.5" fill="#a02810" opacity="0.8" filter="url(#b2)"/>
<circle cx="178.4" cy="314.4" r="1.5" fill="#f0a030" filter="url(#b05)"/>
<text x="188.6" y="280.4" font-size="6.6" fill="#fff" stroke="#fff" stroke-width="0.15">1 x 1</text>
<text x="187.7" y="293.6" font-size="6.6" fill="#fff" stroke="#fff" stroke-width="0.15">2 x 2 CDW</text>
<path d="M183.2,289 L189,279.8 M190.4,306 L196.4,295.5" stroke="#b0b0b0" stroke-width="0.6"/>
<circle cx="183.2" cy="289" r="0.8" fill="#60c0ff"/><circle cx="190.4" cy="306" r="0.8" fill="#60c0ff"/>
<text x="144.6" y="348.6" font-size="3.5" fill="#fff">1.0 nm-1</text>
<path d="M144.6,350.5 H160.3" stroke="#fff" stroke-width="0.9"/>
<path d="M144.8,349.8 V351.2 M148.7,350 V351.2 M152.5,350 V351.2 M156.4,350 V351.2 M160.1,349.8 V351.2" stroke="#fff" stroke-width="0.4"/>
</g>


<pattern id="pk" x="0" y="0" width="14" height="6.3" patternUnits="userSpaceOnUse" patternTransform="translate(268,272) skewX(-11)">
 <rect width="14" height="6.3" fill="#dcaa1c"/>
 <rect x="5.6" y="0" width="1.6" height="6.3" fill="#f0c824"/>
 <rect x="12.4" y="0" width="1.6" height="6.3" fill="#f8d830"/>
 <ellipse cx="3" cy="3.1" rx="2.4" ry="1.9" fill="#4e1600"/>
 <ellipse cx="9.8" cy="3.3" rx="2.4" ry="1.9" fill="#4e1600"/>
 <circle cx="13.2" cy="0.2" r="0.9" fill="#fff090"/>
</pattern>
<clipPath id="ck"><rect x="266" y="270.5" width="87" height="86.5"/></clipPath>
<g clip-path="url(#ck)">
<rect x="266" y="270.5" width="87" height="86.5" fill="url(#pk)" filter="url(#b05)"/>
<rect x="266" y="270.5" width="6" height="7.5" fill="#000"/>
<ellipse cx="303" cy="299" rx="3" ry="1.6" fill="#200800"/>
<ellipse cx="338" cy="290" rx="2" ry="1.6" fill="#200800"/>
<ellipse cx="346" cy="311" rx="2" ry="1.6" fill="#200800"/>
<ellipse cx="348" cy="354" rx="2.5" ry="2.5" fill="#200800"/>
<circle cx="313.7" cy="320.3" r="2.6" fill="none" stroke="#e02020" stroke-width="1.1"/>
<g fill="#fff" opacity="0.85">
<circle cx="283.5" cy="301.0" r="0.55"/><circle cx="300.0" cy="301.0" r="0.55"/><circle cx="283.5" cy="307.2" r="0.55"/><circle cx="300.0" cy="307.2" r="0.55"/><circle cx="283.5" cy="313.4" r="0.55"/><circle cx="300.0" cy="313.4" r="0.55"/><circle cx="283.5" cy="319.6" r="0.55"/><circle cx="300.0" cy="319.6" r="0.55"/><circle cx="283.5" cy="325.8" r="0.55"/><circle cx="300.0" cy="325.8" r="0.55"/><circle cx="283.5" cy="332.0" r="0.55"/><circle cx="300.0" cy="332.0" r="0.55"/><circle cx="287.5" cy="301" r="0.4"/><circle cx="287.5" cy="332" r="0.4"/><circle cx="290.4" cy="301" r="0.4"/><circle cx="290.4" cy="332" r="0.4"/><circle cx="293.3" cy="301" r="0.4"/><circle cx="293.3" cy="332" r="0.4"/><circle cx="296.2" cy="301" r="0.4"/><circle cx="296.2" cy="332" r="0.4"/><circle cx="299.1" cy="301" r="0.4"/><circle cx="299.1" cy="332" r="0.4"/>
</g>
<rect x="267.2" y="331.4" width="8.2" height="24.2" fill="#f4f0ec" stroke="#999" stroke-width="0.4"/>
<rect x="269" y="336.9" width="4.6" height="14.1" fill="url(#lgk)" stroke="#666" stroke-width="0.3"/>
<text x="271.3" y="335.3" font-size="3.2" text-anchor="middle" fill="#222">High</text>
<text x="271.3" y="354.6" font-size="3.2" text-anchor="middle" fill="#222">Low</text>
</g>


<clipPath id="cl"><rect x="381.7" y="270.5" width="85.3" height="86.5"/></clipPath>
<g clip-path="url(#cl)">
<rect x="381.7" y="270.5" width="85.3" height="86.5" fill="#0a0830"/>
<rect x="381.7" y="270.5" width="8.3" height="10" fill="#020210"/>
<rect x="390" y="280.5" width="6" height="7.5" fill="#020210"/>
<ellipse cx="425.5" cy="314" rx="24" ry="18" fill="#40108a" opacity="0.6" filter="url(#b4)"/>
<path d="M401,313.5 H450 M425.5,292 V335" stroke="#8020a0" stroke-width="7" opacity="0.6" filter="url(#b2)"/>
<path d="M408,313.5 H443 M425.5,299 V328" stroke="#e04040" stroke-width="4" opacity="0.6" filter="url(#b2)"/>
<g filter="url(#b05)"><circle cx="383.6" cy="285.8" r="0.80" fill="#c02060" opacity="0.34"/><circle cx="383.8" cy="289.4" r="0.80" fill="#a01890" opacity="0.35"/><circle cx="383.8" cy="297.7" r="0.80" fill="#a01890" opacity="0.37"/><circle cx="383.2" cy="301.6" r="0.80" fill="#a01890" opacity="0.37"/><circle cx="383.9" cy="309.2" r="0.80" fill="#c02060" opacity="0.39"/><circle cx="383.4" cy="325.2" r="0.80" fill="#a01890" opacity="0.38"/><circle cx="383.6" cy="333.7" r="0.80" fill="#c02060" opacity="0.36"/><circle cx="383.5" cy="341.7" r="0.80" fill="#a01890" opacity="0.34"/><circle cx="387.8" cy="273.9" r="0.80" fill="#a01890" opacity="0.32"/><circle cx="387.4" cy="305.2" r="0.80" fill="#7020a0" opacity="0.41"/><circle cx="387.5" cy="321.6" r="0.80" fill="#7020a0" opacity="0.41"/><circle cx="387.8" cy="333.7" r="0.80" fill="#c02060" opacity="0.38"/><circle cx="387.7" cy="353.8" r="0.80" fill="#7020a0" opacity="0.32"/><circle cx="391.5" cy="305.5" r="0.80" fill="#7020a0" opacity="0.45"/><circle cx="392.0" cy="313.4" r="0.80" fill="#c02060" opacity="0.47"/><circle cx="392.1" cy="337.7" r="0.80" fill="#7020a0" opacity="0.39"/><circle cx="396.2" cy="289.2" r="0.80" fill="#7020a0" opacity="0.41"/><circle cx="395.9" cy="297.4" r="0.80" fill="#7020a0" opacity="0.46"/><circle cx="400.1" cy="293.3" r="0.80" fill="#c02060" opacity="0.47"/><circle cx="400.0" cy="305.7" r="0.80" fill="#7020a0" opacity="0.55"/><circle cx="400.6" cy="317.2" r="0.81" fill="#7020a0" opacity="0.57"/><circle cx="404.7" cy="285.6" r="0.80" fill="#7020a0" opacity="0.44"/><circle cx="404.5" cy="293.2" r="0.80" fill="#7020a0" opacity="0.51"/><circle cx="404.2" cy="305.6" r="0.80" fill="#a01890" opacity="0.60"/><circle cx="404.6" cy="313.7" r="0.85" fill="#d02870" opacity="0.85"/><circle cx="404.3" cy="317.6" r="0.81" fill="#c02060" opacity="0.62"/><circle cx="404.8" cy="321.2" r="0.80" fill="#c02060" opacity="0.61"/><circle cx="404.6" cy="325.5" r="0.80" fill="#7020a0" opacity="0.58"/><circle cx="404.7" cy="345.5" r="0.80" fill="#a01890" opacity="0.40"/><circle cx="408.7" cy="281.9" r="0.80" fill="#7020a0" opacity="0.42"/><circle cx="408.3" cy="285.7" r="0.80" fill="#a01890" opacity="0.46"/><circle cx="408.6" cy="301.8" r="0.80" fill="#7020a0" opacity="0.62"/><circle cx="408.9" cy="305.7" r="0.81" fill="#7020a0" opacity="0.66"/><circle cx="408.6" cy="313.8" r="0.92" fill="#d02870" opacity="0.85"/><circle cx="408.9" cy="321.4" r="0.81" fill="#a01890" opacity="0.66"/><circle cx="409.0" cy="329.6" r="0.80" fill="#c02060" opacity="0.59"/><circle cx="408.6" cy="337.5" r="0.80" fill="#a01890" opacity="0.50"/><circle cx="412.8" cy="285.5" r="0.80" fill="#a01890" opacity="0.48"/><circle cx="413.1" cy="297.6" r="0.80" fill="#c02060" opacity="0.63"/><circle cx="413.3" cy="309.6" r="0.87" fill="#d02870" opacity="0.85"/><circle cx="412.8" cy="313.9" r="1.02" fill="#ff6030" opacity="0.95"/><circle cx="412.5" cy="317.1" r="0.87" fill="#d02870" opacity="0.85"/><circle cx="413.1" cy="321.4" r="0.84" fill="#7020a0" opacity="0.70"/><circle cx="413.3" cy="329.7" r="0.80" fill="#c02060" opacity="0.62"/><circle cx="417.3" cy="301.3" r="0.83" fill="#a01890" opacity="0.70"/><circle cx="416.8" cy="305.2" r="0.88" fill="#d02870" opacity="0.85"/><circle cx="416.9" cy="309.2" r="0.95" fill="#ff6030" opacity="0.95"/><circle cx="417.0" cy="313.6" r="1.15" fill="#ffc040" opacity="1.00"/><circle cx="416.9" cy="317.1" r="0.96" fill="#ff6030" opacity="0.95"/><circle cx="417.3" cy="321.1" r="0.90" fill="#d02870" opacity="0.85"/><circle cx="416.9" cy="325.3" r="0.83" fill="#a01890" opacity="0.70"/><circle cx="416.8" cy="329.7" r="0.81" fill="#7020a0" opacity="0.65"/><circle cx="416.8" cy="337.1" r="0.80" fill="#7020a0" opacity="0.55"/><circle cx="417.0" cy="349.2" r="0.80" fill="#a01890" opacity="0.41"/><circle cx="421.6" cy="281.4" r="0.80" fill="#7020a0" opacity="0.46"/><circle cx="420.9" cy="285.5" r="0.80" fill="#a01890" opacity="0.51"/><circle cx="421.6" cy="293.7" r="0.81" fill="#7020a0" opacity="0.62"/><circle cx="421.4" cy="297.6" r="0.83" fill="#c02060" opacity="0.67"/><circle cx="421.5" cy="301.2" r="0.86" fill="#d02870" opacity="0.85"/><circle cx="421.2" cy="305.8" r="0.96" fill="#ff6030" opacity="0.95"/><circle cx="421.3" cy="309.4" r="1.07" fill="#ff6030" opacity="0.95"/><circle cx="421.3" cy="313.7" r="1.25" fill="#ffc040" opacity="1.00"/><circle cx="421.6" cy="317.5" r="1.08" fill="#ffc040" opacity="1.00"/><circle cx="421.7" cy="321.6" r="0.95" fill="#ff6030" opacity="0.95"/><circle cx="421.0" cy="325.8" r="0.85" fill="#d02870" opacity="0.85"/><circle cx="421.6" cy="337.4" r="0.80" fill="#c02060" opacity="0.56"/><circle cx="425.5" cy="289.5" r="0.82" fill="#a01890" opacity="0.56"/><circle cx="425.4" cy="293.1" r="0.84" fill="#d02870" opacity="0.85"/><circle cx="425.5" cy="297.6" r="0.91" fill="#d02870" opacity="0.85"/><circle cx="425.2" cy="301.4" r="1.01" fill="#ff6030" opacity="0.95"/><circle cx="425.4" cy="305.1" r="1.13" fill="#ffc040" opacity="1.00"/><circle cx="425.3" cy="309.4" r="1.25" fill="#ffc040" opacity="1.00"/><circle cx="425.5" cy="313.7" r="1.30" fill="#ffc040" opacity="1.00"/><circle cx="425.4" cy="317.9" r="1.25" fill="#ffc040" opacity="1.00"/><circle cx="425.8" cy="321.8" r="1.13" fill="#ffc040" opacity="1.00"/><circle cx="425.7" cy="325.6" r="1.01" fill="#ff6030" opacity="0.95"/><circle cx="425.5" cy="329.7" r="0.91" fill="#d02870" opacity="0.85"/><circle cx="425.4" cy="333.6" r="0.85" fill="#d02870" opacity="0.85"/><circle cx="425.6" cy="337.5" r="0.82" fill="#a01890" opacity="0.56"/><circle cx="425.3" cy="353.1" r="0.80" fill="#c02060" opacity="0.39"/><circle cx="429.9" cy="277.6" r="0.80" fill="#7020a0" opacity="0.42"/><circle cx="430.0" cy="301.7" r="0.86" fill="#d02870" opacity="0.85"/><circle cx="430.1" cy="305.3" r="0.94" fill="#ff6030" opacity="0.95"/><circle cx="429.4" cy="309.3" r="1.08" fill="#ffc040" opacity="1.00"/><circle cx="429.9" cy="313.7" r="1.25" fill="#ffc040" opacity="1.00"/><circle cx="429.4" cy="317.9" r="1.07" fill="#ff6030" opacity="0.95"/><circle cx="429.4" cy="321.4" r="0.96" fill="#ff6030" opacity="0.95"/><circle cx="429.4" cy="325.6" r="0.86" fill="#d02870" opacity="0.85"/><circle cx="429.7" cy="333.4" r="0.81" fill="#c02060" opacity="0.62"/><circle cx="429.7" cy="337.8" r="0.80" fill="#c02060" opacity="0.55"/><circle cx="433.6" cy="277.5" r="0.80" fill="#a01890" opacity="0.41"/><circle cx="433.9" cy="289.2" r="0.80" fill="#a01890" opacity="0.54"/><circle cx="433.6" cy="293.4" r="0.80" fill="#a01890" opacity="0.60"/><circle cx="434.0" cy="297.5" r="0.81" fill="#a01890" opacity="0.65"/><circle cx="434.0" cy="305.9" r="0.89" fill="#d02870" opacity="0.85"/><circle cx="433.6" cy="309.2" r="0.97" fill="#ff6030" opacity="0.95"/><circle cx="433.6" cy="313.3" r="1.16" fill="#ffc040" opacity="1.00"/><circle cx="433.8" cy="317.5" r="0.97" fill="#ff6030" opacity="0.95"/><circle cx="434.0" cy="321.7" r="0.88" fill="#d02870" opacity="0.85"/><circle cx="434.3" cy="337.9" r="0.80" fill="#7020a0" opacity="0.54"/><circle cx="434.3" cy="345.7" r="0.80" fill="#c02060" opacity="0.45"/><circle cx="437.9" cy="281.6" r="0.80" fill="#c02060" opacity="0.44"/><circle cx="437.9" cy="293.5" r="0.80" fill="#a01890" opacity="0.58"/><circle cx="437.7" cy="297.7" r="0.80" fill="#a01890" opacity="0.63"/><circle cx="437.9" cy="309.7" r="0.87" fill="#d02870" opacity="0.85"/><circle cx="437.7" cy="313.5" r="1.03" fill="#ff6030" opacity="0.95"/><circle cx="438.5" cy="317.6" r="0.86" fill="#d02870" opacity="0.85"/><circle cx="438.4" cy="321.5" r="0.83" fill="#a01890" opacity="0.70"/><circle cx="438.0" cy="325.7" r="0.81" fill="#7020a0" opacity="0.66"/><circle cx="438.0" cy="341.8" r="0.80" fill="#a01890" opacity="0.48"/><circle cx="442.6" cy="285.3" r="0.80" fill="#c02060" opacity="0.45"/><circle cx="442.7" cy="289.6" r="0.80" fill="#a01890" opacity="0.50"/><circle cx="441.9" cy="297.7" r="0.80" fill="#a01890" opacity="0.59"/><circle cx="442.5" cy="309.2" r="0.82" fill="#7020a0" opacity="0.67"/><circle cx="442.2" cy="313.3" r="0.92" fill="#d02870" opacity="0.85"/><circle cx="442.6" cy="317.5" r="0.83" fill="#a01890" opacity="0.67"/><circle cx="442.7" cy="321.2" r="0.81" fill="#a01890" opacity="0.65"/><circle cx="446.2" cy="277.8" r="0.80" fill="#c02060" opacity="0.38"/><circle cx="446.2" cy="301.8" r="0.80" fill="#c02060" opacity="0.58"/><circle cx="446.6" cy="313.4" r="0.85" fill="#d02870" opacity="0.85"/><circle cx="446.6" cy="317.3" r="0.82" fill="#c02060" opacity="0.62"/><circle cx="446.6" cy="325.8" r="0.80" fill="#a01890" opacity="0.57"/><circle cx="446.5" cy="333.8" r="0.80" fill="#7020a0" opacity="0.51"/><circle cx="450.5" cy="305.8" r="0.80" fill="#7020a0" opacity="0.55"/><circle cx="451.0" cy="325.3" r="0.80" fill="#c02060" opacity="0.53"/><circle cx="450.7" cy="333.7" r="0.80" fill="#a01890" opacity="0.47"/><circle cx="450.9" cy="337.2" r="0.80" fill="#7020a0" opacity="0.44"/><circle cx="450.5" cy="341.7" r="0.80" fill="#7020a0" opacity="0.41"/><circle cx="454.8" cy="273.8" r="0.80" fill="#c02060" opacity="0.34"/><circle cx="454.6" cy="277.1" r="0.80" fill="#7020a0" opacity="0.35"/><circle cx="455.2" cy="281.5" r="0.80" fill="#c02060" opacity="0.37"/><circle cx="454.8" cy="293.4" r="0.80" fill="#c02060" opacity="0.44"/><circle cx="454.6" cy="297.7" r="0.80" fill="#7020a0" opacity="0.47"/><circle cx="454.8" cy="305.2" r="0.80" fill="#c02060" opacity="0.50"/><circle cx="455.3" cy="309.4" r="0.80" fill="#7020a0" opacity="0.51"/><circle cx="455.1" cy="321.2" r="0.80" fill="#7020a0" opacity="0.50"/><circle cx="455.1" cy="337.6" r="0.80" fill="#a01890" opacity="0.41"/><circle cx="459.1" cy="281.3" r="0.80" fill="#7020a0" opacity="0.35"/><circle cx="459.0" cy="293.8" r="0.80" fill="#c02060" opacity="0.41"/><circle cx="458.7" cy="305.5" r="0.80" fill="#c02060" opacity="0.46"/><circle cx="459.1" cy="333.2" r="0.80" fill="#a01890" opacity="0.41"/><circle cx="458.9" cy="345.3" r="0.80" fill="#7020a0" opacity="0.35"/><circle cx="463.6" cy="281.5" r="0.80" fill="#c02060" opacity="0.34"/><circle cx="463.0" cy="317.4" r="0.80" fill="#a01890" opacity="0.42"/><circle cx="463.2" cy="321.1" r="0.80" fill="#a01890" opacity="0.42"/><circle cx="463.5" cy="325.4" r="0.80" fill="#a01890" opacity="0.40"/><rect x="420.9" y="325.9" width="1" height="1" fill="#ff9030" opacity="0.8"/><rect x="427.2" y="305.6" width="1" height="1" fill="#ff9030" opacity="0.8"/><rect x="419.4" y="305.4" width="1" height="1" fill="#ff9030" opacity="0.8"/><rect x="432.5" y="316.5" width="1" height="1" fill="#e03060" opacity="0.8"/><rect x="417.9" y="326.0" width="1" height="1" fill="#ff9030" opacity="0.8"/><rect x="420.6" y="323.3" width="1" height="1" fill="#ff9030" opacity="0.8"/><rect x="442.5" y="307.0" width="1" height="1" fill="#ff9030" opacity="0.8"/><rect x="435.9" y="315.6" width="1" height="1" fill="#b02090" opacity="0.8"/><rect x="427.1" y="319.3" width="1" height="1" fill="#b02090" opacity="0.8"/><rect x="423.8" y="321.0" width="1" height="1" fill="#ff9030" opacity="0.8"/><rect x="436.2" y="311.9" width="1" height="1" fill="#ffd050" opacity="0.8"/><rect x="431.4" y="305.4" width="1" height="1" fill="#ff9030" opacity="0.8"/><rect x="432.3" y="311.1" width="1" height="1" fill="#ff9030" opacity="0.8"/><rect x="432.3" y="321.8" width="1" height="1" fill="#b02090" opacity="0.8"/><rect x="432.5" y="316.9" width="1" height="1" fill="#e03060" opacity="0.8"/><rect x="422.9" y="316.1" width="1" height="1" fill="#ffd050" opacity="0.8"/><rect x="440.1" y="321.6" width="1" height="1" fill="#ffd050" opacity="0.8"/><rect x="448.3" y="317.5" width="1" height="1" fill="#ff9030" opacity="0.8"/><rect x="409.9" y="305.2" width="1" height="1" fill="#ffd050" opacity="0.8"/><rect x="424.0" y="326.5" width="1" height="1" fill="#ffd050" opacity="0.8"/><rect x="421.5" y="313.2" width="1" height="1" fill="#b02090" opacity="0.8"/><rect x="420.4" y="315.9" width="1" height="1" fill="#b02090" opacity="0.8"/><rect x="429.7" y="312.1" width="1" height="1" fill="#ff9030" opacity="0.8"/><rect x="408.3" y="318.9" width="1" height="1" fill="#ffd050" opacity="0.8"/><rect x="427.6" y="306.4" width="1" height="1" fill="#ff9030" opacity="0.8"/><rect x="429.9" y="320.3" width="1" height="1" fill="#ffd050" opacity="0.8"/><rect x="429.7" y="314.4" width="1" height="1" fill="#ff9030" opacity="0.8"/><rect x="428.9" y="314.7" width="1" height="1" fill="#ffd050" opacity="0.8"/><rect x="422.7" y="323.5" width="1" height="1" fill="#ff9030" opacity="0.8"/><rect x="418.6" y="315.9" width="1" height="1" fill="#ffd050" opacity="0.8"/><rect x="395.5" y="309.3" width="1" height="1" fill="#b02090" opacity="0.8"/><rect x="432.3" y="305.3" width="1" height="1" fill="#ff9030" opacity="0.8"/><rect x="430.0" y="320.6" width="1" height="1" fill="#ffd050" opacity="0.8"/><rect x="427.8" y="311.1" width="1" height="1" fill="#b02090" opacity="0.8"/><rect x="432.0" y="309.1" width="1" height="1" fill="#ffd050" opacity="0.8"/><rect x="445.5" y="307.7" width="1" height="1" fill="#b02090" opacity="0.8"/><rect x="417.5" y="317.9" width="1" height="1" fill="#ffd050" opacity="0.8"/><rect x="435.7" y="322.0" width="1" height="1" fill="#b02090" opacity="0.8"/><rect x="421.9" y="317.0" width="1" height="1" fill="#b02090" opacity="0.8"/><rect x="439.1" y="314.1" width="1" height="1" fill="#ffd050" opacity="0.8"/><rect x="425.1" y="323.2" width="1" height="1" fill="#b02090" opacity="0.8"/><rect x="434.7" y="309.0" width="1" height="1" fill="#ff9030" opacity="0.8"/><rect x="425.0" y="315.3" width="1" height="1" fill="#e03060" opacity="0.8"/><rect x="421.9" y="309.1" width="1" height="1" fill="#b02090" opacity="0.8"/><rect x="435.0" y="306.2" width="1" height="1" fill="#ff9030" opacity="0.8"/><rect x="438.2" y="306.4" width="1" height="1" fill="#ffd050" opacity="0.8"/><rect x="432.1" y="317.2" width="1" height="1" fill="#ffd050" opacity="0.8"/><rect x="436.5" y="327.4" width="1" height="1" fill="#ff9030" opacity="0.8"/><rect x="426.3" y="315.2" width="1" height="1" fill="#b02090" opacity="0.8"/><rect x="422.8" y="313.2" width="1" height="1" fill="#e03060" opacity="0.8"/><rect x="433.5" y="313.2" width="1" height="1" fill="#ffd050" opacity="0.8"/><rect x="427.3" y="321.1" width="1" height="1" fill="#ff9030" opacity="0.8"/><rect x="420.7" y="302.3" width="1" height="1" fill="#ff9030" opacity="0.8"/><rect x="433.2" y="312.9" width="1" height="1" fill="#e03060" opacity="0.8"/><rect x="435.8" y="307.6" width="1" height="1" fill="#ffd050" opacity="0.8"/><rect x="426.9" y="308.2" width="1" height="1" fill="#e03060" opacity="0.8"/><rect x="426.8" y="307.6" width="1" height="1" fill="#b02090" opacity="0.8"/><rect x="432.0" y="323.5" width="1" height="1" fill="#b02090" opacity="0.8"/><rect x="433.6" y="303.3" width="1" height="1" fill="#b02090" opacity="0.8"/><rect x="435.8" y="302.4" width="1" height="1" fill="#e03060" opacity="0.8"/><rect x="416.8" y="319.6" width="1" height="1" fill="#ffd050" opacity="0.8"/><rect x="411.8" y="314.5" width="1" height="1" fill="#ff9030" opacity="0.8"/><rect x="421.1" y="314.4" width="1" height="1" fill="#ff9030" opacity="0.8"/><rect x="432.5" y="310.7" width="1" height="1" fill="#e03060" opacity="0.8"/><rect x="435.5" y="311.3" width="1" height="1" fill="#ff9030" opacity="0.8"/><rect x="418.9" y="310.1" width="1" height="1" fill="#b02090" opacity="0.8"/><rect x="421.2" y="317.9" width="1" height="1" fill="#e03060" opacity="0.8"/><rect x="435.3" y="303.7" width="1" height="1" fill="#ffd050" opacity="0.8"/><rect x="412.4" y="316.6" width="1" height="1" fill="#e03060" opacity="0.8"/><rect x="425.6" y="314.2" width="1" height="1" fill="#ffd050" opacity="0.8"/><rect x="431.1" y="316.2" width="1" height="1" fill="#b02090" opacity="0.8"/><rect x="419.4" y="305.5" width="1" height="1" fill="#ffd050" opacity="0.8"/><rect x="428.2" y="310.3" width="1" height="1" fill="#e03060" opacity="0.8"/><rect x="434.3" y="319.9" width="1" height="1" fill="#b02090" opacity="0.8"/><rect x="427.2" y="320.9" width="1" height="1" fill="#ffd050" opacity="0.8"/><rect x="424.2" y="310.9" width="1" height="1" fill="#e03060" opacity="0.8"/><rect x="411.8" y="306.8" width="1" height="1" fill="#ff9030" opacity="0.8"/><rect x="419.8" y="304.6" width="1" height="1" fill="#b02090" opacity="0.8"/><rect x="451.7" y="306.2" width="1" height="1" fill="#ff9030" opacity="0.8"/><rect x="421.8" y="322.0" width="1" height="1" fill="#e03060" opacity="0.8"/><rect x="421.1" y="308.5" width="1" height="1" fill="#ffd050" opacity="0.8"/><rect x="434.8" y="301.9" width="1" height="1" fill="#ffd050" opacity="0.8"/><rect x="432.0" y="319.2" width="1" height="1" fill="#e03060" opacity="0.8"/><rect x="424.8" y="303.9" width="1" height="1" fill="#ff9030" opacity="0.8"/><rect x="430.4" y="311.2" width="1" height="1" fill="#ff9030" opacity="0.8"/><rect x="430.0" y="324.0" width="1" height="1" fill="#ffd050" opacity="0.8"/><rect x="409.5" y="322.5" width="1" height="1" fill="#ff9030" opacity="0.8"/><rect x="420.5" y="308.8" width="1" height="1" fill="#ff9030" opacity="0.8"/><rect x="424.2" y="312.5" width="1" height="1" fill="#e03060" opacity="0.8"/><rect x="440.8" y="309.1" width="1" height="1" fill="#b02090" opacity="0.8"/><rect x="419.0" y="315.4" width="1" height="1" fill="#b02090" opacity="0.8"/><rect x="405.7" y="325.4" width="1" height="1" fill="#b02090" opacity="0.8"/><rect x="418.3" y="303.8" width="1" height="1" fill="#b02090" opacity="0.8"/><rect x="428.5" y="312.6" width="1" height="1" fill="#b02090" opacity="0.8"/><rect x="423.4" y="312.1" width="1" height="1" fill="#ffd050" opacity="0.8"/><rect x="418.8" y="322.8" width="1" height="1" fill="#ffd050" opacity="0.8"/><rect x="410.6" y="318.8" width="1" height="1" fill="#e03060" opacity="0.8"/><rect x="438.1" y="308.5" width="1" height="1" fill="#e03060" opacity="0.8"/><rect x="411.0" y="308.5" width="1" height="1" fill="#ff9030" opacity="0.8"/><rect x="420.3" y="332.7" width="1" height="1" fill="#b02090" opacity="0.8"/><rect x="414.6" y="313.9" width="1" height="1" fill="#e03060" opacity="0.8"/><rect x="426.5" y="305.7" width="1" height="1" fill="#b02090" opacity="0.8"/><rect x="414.6" y="316.7" width="1" height="1" fill="#e03060" opacity="0.8"/><rect x="419.1" y="323.4" width="1" height="1" fill="#e03060" opacity="0.8"/><rect x="439.0" y="319.6" width="1" height="1" fill="#b02090" opacity="0.8"/><rect x="410.1" y="310.4" width="1" height="1" fill="#e03060" opacity="0.8"/><rect x="439.4" y="314.4" width="1" height="1" fill="#e03060" opacity="0.8"/><rect x="441.2" y="310.2" width="1" height="1" fill="#ff9030" opacity="0.8"/><rect x="430.8" y="307.2" width="1" height="1" fill="#e03060" opacity="0.8"/><rect x="439.8" y="309.6" width="1" height="1" fill="#ffd050" opacity="0.8"/><rect x="427.8" y="306.2" width="1" height="1" fill="#ffd050" opacity="0.8"/><rect x="420.2" y="295.4" width="1" height="1" fill="#b02090" opacity="0.8"/><rect x="408.1" y="312.5" width="1" height="1" fill="#ffd050" opacity="0.8"/><rect x="447.2" y="318.9" width="1" height="1" fill="#ffd050" opacity="0.8"/><rect x="452.5" y="314.7" width="1" height="1" fill="#e03060" opacity="0.8"/><rect x="433.1" y="328.5" width="1" height="1" fill="#ffd050" opacity="0.8"/><rect x="431.9" y="312.6" width="1" height="1" fill="#e03060" opacity="0.8"/><rect x="422.4" y="314.4" width="1" height="1" fill="#b02090" opacity="0.8"/><rect x="433.7" y="308.7" width="1" height="1" fill="#ffd050" opacity="0.8"/><rect x="420.1" y="316.0" width="1" height="1" fill="#b02090" opacity="0.8"/><rect x="430.0" y="313.5" width="1" height="1" fill="#e03060" opacity="0.8"/><rect x="426.1" y="319.2" width="1" height="1" fill="#e03060" opacity="0.8"/><rect x="433.4" y="311.2" width="1" height="1" fill="#e03060" opacity="0.8"/><rect x="429.7" y="313.4" width="1" height="1" fill="#b02090" opacity="0.8"/><rect x="425.3" y="322.1" width="1" height="1" fill="#ffd050" opacity="0.8"/><rect x="438.4" y="316.3" width="1" height="1" fill="#ff9030" opacity="0.8"/><rect x="431.6" y="317.0" width="1" height="1" fill="#e03060" opacity="0.8"/><rect x="407.9" y="309.7" width="1" height="1" fill="#ffd050" opacity="0.8"/><rect x="422.9" y="317.5" width="1" height="1" fill="#b02090" opacity="0.8"/><rect x="433.0" y="309.0" width="1" height="1" fill="#ff9030" opacity="0.8"/><rect x="438.3" y="322.2" width="1" height="1" fill="#b02090" opacity="0.8"/><rect x="424.2" y="300.8" width="1" height="1" fill="#ff9030" opacity="0.8"/><rect x="421.0" y="321.8" width="1" height="1" fill="#e03060" opacity="0.8"/><rect x="442.0" y="305.2" width="1" height="1" fill="#e03060" opacity="0.8"/><rect x="410.4" y="327.1" width="1" height="1" fill="#ffd050" opacity="0.8"/><rect x="423.8" y="320.9" width="1" height="1" fill="#ff9030" opacity="0.8"/><rect x="418.1" y="315.2" width="1" height="1" fill="#b02090" opacity="0.8"/><rect x="434.4" y="318.4" width="1" height="1" fill="#ff9030" opacity="0.8"/><rect x="425.8" y="320.8" width="1" height="1" fill="#ff9030" opacity="0.8"/><rect x="414.3" y="308.5" width="1" height="1" fill="#b02090" opacity="0.8"/></g>
<path d="M410,313.5 H441" stroke="#ffc050" stroke-width="1.2" opacity="0.8" filter="url(#b05)"/><path d="M425.5,301 V314.5 H431" stroke="#fff" stroke-width="0.9" fill="none" opacity="0.95"/><circle cx="425.5" cy="313.5" r="1.8" fill="#fff0a0" filter="url(#b05)"/>
<circle cx="428.6" cy="292.9" r="1.3" fill="#e02040"/><circle cx="428.6" cy="292.9" r="2.9" fill="none" stroke="#fff" stroke-width="0.9"/><circle cx="409.9" cy="301.7" r="1.3" fill="#e02040"/><circle cx="409.9" cy="301.7" r="2.9" fill="none" stroke="#fff" stroke-width="0.9"/><circle cx="444.3" cy="306.7" r="1.3" fill="#e02040"/><circle cx="444.3" cy="306.7" r="2.9" fill="none" stroke="#fff" stroke-width="0.9"/><circle cx="406.2" cy="322.4" r="1.3" fill="#e02040"/><circle cx="406.2" cy="322.4" r="2.9" fill="none" stroke="#fff" stroke-width="0.9"/><circle cx="441.1" cy="327.4" r="1.3" fill="#e02040"/><circle cx="441.1" cy="327.4" r="2.9" fill="none" stroke="#fff" stroke-width="0.9"/><circle cx="422.4" cy="335.3" r="1.3" fill="#e02040"/><circle cx="422.4" cy="335.3" r="2.9" fill="none" stroke="#fff" stroke-width="0.9"/>
<text x="417.2" y="300.2" font-size="7.5" font-style="italic" fill="#fff">g<tspan font-size="4.5" dy="1.2">2</tspan></text>
<text x="427.4" y="322.5" font-size="7.5" font-style="italic" fill="#fff">g<tspan font-size="4.5" dy="1.2">1</tspan></text>
<text x="449.5" y="304.6" font-size="6" fill="#fff">1×1</text>
<rect x="382.7" y="330" width="8.7" height="26" fill="#f4f0f4" stroke="#999" stroke-width="0.4"/>
<rect x="384.6" y="336.4" width="5" height="14.2" fill="url(#lgl)" stroke="#666" stroke-width="0.3"/>
<text x="387" y="334.6" font-size="3.2" text-anchor="middle" fill="#222">High</text>
<text x="387" y="354.8" font-size="3.2" text-anchor="middle" fill="#222">Low</text>
</g>



<g fill="#111" stroke="#111" stroke-width="0.28">
<text class="lab" x="6" y="282">(e)</text>
<text class="lab" x="121" y="282">(f)</text>
<text class="lab" x="242.5" y="282">(k)</text>
<text class="lab" x="362.6" y="282">(l)</text>
</g>
</svg>
</body></html>
